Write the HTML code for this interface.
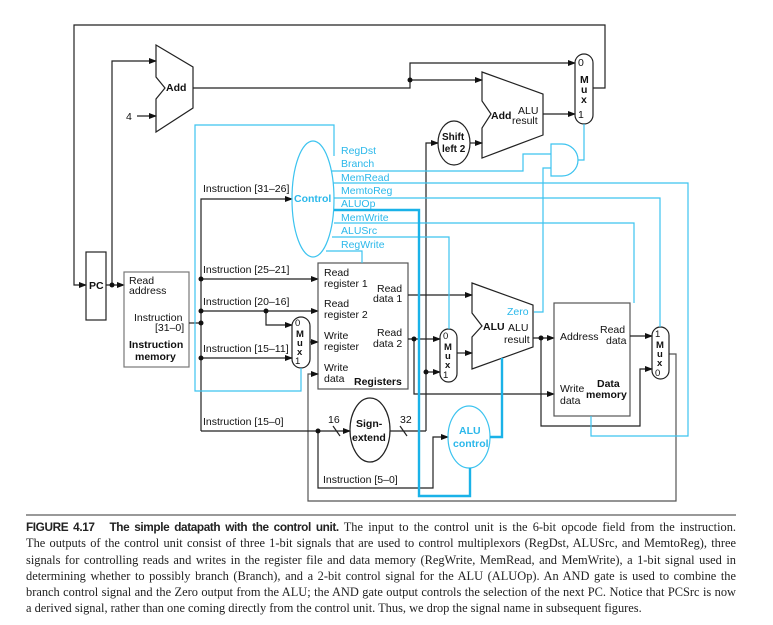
<!DOCTYPE html>
<html><head><meta charset="utf-8"><style>
body{margin:0;background:#fff;width:773px;height:625px;overflow:hidden;position:relative}
svg{position:absolute;left:0;top:0}
.cap{position:absolute;left:26px;top:519px;width:710px;font-family:"Liberation Serif",serif;font-size:12.4px;line-height:16.3px;color:#222}
.cap div{text-align:justify;text-align-last:justify;white-space:normal;height:16.3px;overflow:visible}
.cap div.last{text-align-last:left}
.cap b{font-family:"Liberation Sans",sans-serif;font-size:11.8px;letter-spacing:-0.4px}
</style></head><body>
<svg width="773" height="625" viewBox="0 0 773 625" font-family="Liberation Sans, sans-serif" font-size="10.5">
<defs>
<marker id="a" markerWidth="8" markerHeight="6" refX="7" refY="3" orient="auto" markerUnits="userSpaceOnUse"><path d="M0,0 L8,3 L0,6 z" fill="#111"/></marker>
</defs>
<g fill="none" stroke="#222" stroke-width="1.2">
<polyline points="593,88 605,88 605,25 74,25 74,285 86,285" marker-end="url(#a)"/>
<rect x="86" y="252" width="20" height="68"/>
<polyline points="106,285 124,285" marker-end="url(#a)"/>
<polyline points="112,285 112,61 156,61" marker-end="url(#a)"/>
<polyline points="137,116 156,116" marker-end="url(#a)"/>
<polygon points="156,45 193,67 193,108 156,132 156,99 165,88 156,77"/>
<polyline points="193,88 410,88 410,63 575,63" marker-end="url(#a)"/>
<polyline points="410,80 482,80" marker-end="url(#a)"/>
<polygon points="482,72 543,94 543,135 482,158 482,128 491,114 482,101"/>
<polyline points="543,114 575,114" marker-end="url(#a)"/>
<rect x="575" y="54" width="18" height="70" rx="9"/>
<ellipse cx="454" cy="143" rx="16" ry="22"/>
<polyline points="470,143 482,143" marker-end="url(#a)"/>
<polyline points="426,431 426,143 438,143" marker-end="url(#a)"/>
<rect x="124" y="272" width="65" height="95" stroke="#777"/>
<polyline points="189,323 201,323"/>
<polyline points="201,431 201,199 292,199" marker-end="url(#a)"/>
<polyline points="201,279 318,279" marker-end="url(#a)"/>
<polyline points="201,311 318,311" marker-end="url(#a)"/>
<polyline points="266,311 266,325 292,325" marker-end="url(#a)"/>
<polyline points="201,358 292,358" marker-end="url(#a)"/>
<rect x="292" y="317" width="18" height="51" rx="9"/>
<polyline points="310,342 318,342" marker-end="url(#a)"/>
<rect x="318" y="263" width="90" height="126" stroke="#555"/>
<polyline points="669,354 676,354 676,501 308,501 308,374 318,374" marker-end="url(#a)" stroke="#555"/>
<polyline points="201,431 350,431" marker-end="url(#a)"/>
<line x1="333" y1="426" x2="340" y2="436"/>
<line x1="400" y1="426" x2="407" y2="436"/>
<ellipse cx="370" cy="430" rx="20" ry="32"/>
<polyline points="390,431 426,431"/>
<polyline points="318,431 318,488 433,488 433,437 448,437" marker-end="url(#a)"/>
<polyline points="408,295 472,295" marker-end="url(#a)"/>
<polyline points="408,339 440,339" marker-end="url(#a)"/>
<polyline points="426,372 440,372" marker-end="url(#a)"/>
<polyline points="414,339 414,394 554,394" marker-end="url(#a)"/>
<rect x="440" y="329" width="17" height="53" rx="8.5"/>
<polyline points="457,353 472,353" marker-end="url(#a)"/>
<polygon points="472,283 533,305 533,347 472,369 472,337 482,326 472,313"/>
<polyline points="533,338 554,338" marker-end="url(#a)"/>
<polyline points="541,338 541,426 640,426 640,369 652,369" marker-end="url(#a)"/>
<rect x="554" y="303" width="76" height="113" stroke="#555"/>
<polyline points="630,336 652,336" marker-end="url(#a)"/>
<rect x="652" y="327" width="17" height="52" rx="8.5"/>
</g>
<g fill="#111">
<circle cx="112" cy="285" r="2.5"/><circle cx="410" cy="80" r="2.5"/>
<circle cx="201" cy="279" r="2.5"/><circle cx="201" cy="311" r="2.5"/><circle cx="201" cy="323" r="2.5"/><circle cx="201" cy="358" r="2.5"/>
<circle cx="266" cy="311" r="2.5"/><circle cx="318" cy="431" r="2.5"/><circle cx="414" cy="339" r="2.5"/>
<circle cx="426" cy="372" r="2.5"/><circle cx="541" cy="338" r="2.5"/>
</g>
<g fill="none" stroke="#3cc3ef" stroke-width="1.2">
<ellipse cx="313" cy="199" rx="21" ry="58"/>
<ellipse cx="469" cy="437" rx="21" ry="31"/>
<polyline points="334,156 334,125 195,125 195,391 301,391 301,368"/>
<polyline points="332,171 523,171 523,154 551,154"/>
<polyline points="333,183 688,183 688,436 591,436 591,416"/>
<polyline points="334,198 660,198 660,327"/>
<polyline points="334,223 634,223 634,303"/>
<polyline points="332,237 449,237 449,329"/>
<polyline points="326,251 362,251 362,263"/>
<polyline points="534,312 543,312 543,168 551,168"/>
<path d="M551,144 L562,144 A16,16 0 0 1 562,176 L551,176 Z"/>
<polyline points="578,160 584,160 584,124"/>
</g>
<g fill="none" stroke="#1ab2e8" stroke-width="2.4">
<polyline points="334,210 419,210 419,496 470,496 470,468"/>
<polyline points="490,437 502,437 502,358"/>
</g>
<g fill="#111">
<text x="166" y="91" font-weight="bold">Add</text>
<text x="126" y="120">4</text>
<text x="491" y="119" font-weight="bold">Add</text>
<text x="518" y="114">ALU</text><text x="512" y="124">result</text>
<text x="578" y="66">0</text>
<text x="580" y="83" font-weight="bold">M</text><text x="581" y="93" font-weight="bold">u</text><text x="581" y="103" font-weight="bold">x</text>
<text x="578" y="118">1</text>
<text x="442" y="140" font-weight="bold" font-size="10">Shift</text><text x="442" y="152" font-weight="bold" font-size="10">left 2</text>
<text x="89" y="289" font-weight="bold">PC</text>
<text x="129" y="284">Read</text><text x="129" y="294">address</text>
<text x="134" y="321">Instruction</text><text x="155" y="331">[31–0]</text>
<text x="129" y="348" font-weight="bold">Instruction</text><text x="135" y="360" font-weight="bold">memory</text>
<text x="203" y="192">Instruction [31–26]</text>
<text x="203" y="273">Instruction [25–21]</text>
<text x="203" y="305">Instruction [20–16]</text>
<text x="203" y="352">Instruction [15–11]</text>
<text x="203" y="425">Instruction [15–0]</text>
<text x="323" y="483">Instruction [5–0]</text>
<text x="295" y="326" font-size="9.5">0</text>
<text x="296" y="337" font-weight="bold" font-size="9.5">M</text><text x="297" y="346" font-weight="bold" font-size="9.5">u</text><text x="297" y="355" font-weight="bold" font-size="9.5">x</text>
<text x="295" y="364" font-size="9.5">1</text>
<text x="324" y="276">Read</text><text x="324" y="287">register 1</text>
<text x="324" y="307">Read</text><text x="324" y="318">register 2</text>
<text x="324" y="339">Write</text><text x="324" y="350">register</text>
<text x="324" y="371">Write</text><text x="324" y="382">data</text>
<text x="354" y="385" font-weight="bold">Registers</text>
<text x="377" y="292">Read</text><text x="373" y="302">data 1</text>
<text x="377" y="336">Read</text><text x="373" y="347">data 2</text>
<text x="328" y="423">16</text><text x="400" y="423">32</text>
<text x="356" y="427" font-weight="bold">Sign-</text><text x="352" y="441" font-weight="bold">extend</text>
<text x="443" y="339" font-size="9.5">0</text>
<text x="444" y="350" font-weight="bold" font-size="9.5">M</text><text x="445" y="359" font-weight="bold" font-size="9.5">u</text><text x="445" y="368" font-weight="bold" font-size="9.5">x</text>
<text x="443" y="378" font-size="9.5">1</text>
<text x="483" y="330" font-weight="bold">ALU</text>
<text x="508" y="331">ALU</text><text x="504" y="343">result</text>
<text x="560" y="340">Address</text>
<text x="600" y="333">Read</text><text x="606" y="344">data</text>
<text x="560" y="392">Write</text><text x="560" y="404">data</text>
<text x="597" y="387" font-weight="bold">Data</text><text x="586" y="398" font-weight="bold">memory</text>
<text x="655" y="337" font-size="9.5">1</text>
<text x="656" y="348" font-weight="bold" font-size="9.5">M</text><text x="657" y="357" font-weight="bold" font-size="9.5">u</text><text x="657" y="366" font-weight="bold" font-size="9.5">x</text>
<text x="655" y="376" font-size="9.5">0</text>
</g>
<g fill="#2bb8ea">
<text x="294" y="202" font-weight="bold">Control</text>
<text x="341" y="154">RegDst</text>
<text x="341" y="167">Branch</text>
<text x="341" y="181">MemRead</text>
<text x="341" y="194">MemtoReg</text>
<text x="341" y="207">ALUOp</text>
<text x="341" y="221">MemWrite</text>
<text x="341" y="234">ALUSrc</text>
<text x="341" y="248">RegWrite</text>
<text x="507" y="315">Zero</text>
<text x="459" y="434" font-weight="bold">ALU</text>
<text x="453" y="447" font-weight="bold">control</text>
</g>
<line x1="26" y1="515" x2="736" y2="515" stroke="#333" stroke-width="1"/>
</svg>
<div class="cap">
<div><b>FIGURE 4.17&nbsp;&nbsp; The simple datapath with the control unit.</b> The input to the control unit is the 6-bit opcode field from the instruction.</div>
<div>The outputs of the control unit consist of three 1-bit signals that are used to control multiplexors (RegDst, ALUSrc, and MemtoReg), three</div>
<div>signals for controlling reads and writes in the register file and data memory (RegWrite, MemRead, and MemWrite), a 1-bit signal used in</div>
<div>determining whether to possibly branch (Branch), and a 2-bit control signal for the ALU (ALUOp). An AND gate is used to combine the</div>
<div>branch control signal and the Zero output from the ALU; the AND gate output controls the selection of the next PC. Notice that PCSrc is now</div>
<div class="last">a derived signal, rather than one coming directly from the control unit. Thus, we drop the signal name in subsequent figures.</div>
</div>
</body></html>
